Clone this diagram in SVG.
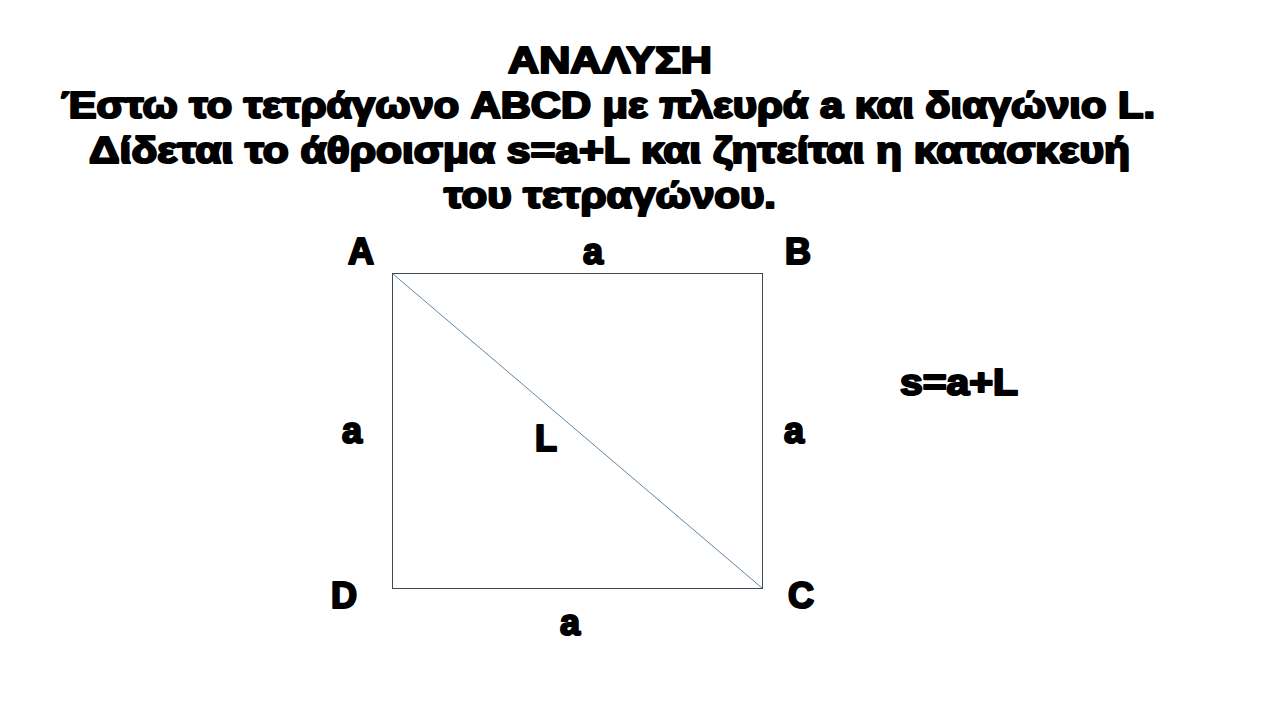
<svg xmlns="http://www.w3.org/2000/svg" width="1280" height="720" viewBox="0 0 1280 720">
<style>
.t{font-family:"Liberation Sans","DejaVu Sans",Arial,sans-serif;font-weight:bold;font-size:36px;fill:#000;stroke:#000;stroke-width:2.2px;stroke-linejoin:round}
.lbl{text-anchor:middle}
</style>
<rect width="1280" height="720" fill="#fff"/>
<g id="title">
<text class="t" x="508" y="73" textLength="204" lengthAdjust="spacingAndGlyphs">ΑΝΑΛΥΣΗ</text>
<text class="t" x="61" y="118" textLength="1094" lengthAdjust="spacingAndGlyphs">Έστω το τετράγωνο ABCD με πλευρά a και διαγώνιο L.</text>
<text class="t" x="89" y="163" textLength="1041" lengthAdjust="spacingAndGlyphs">Δίδεται το άθροισμα s=a+L και ζητείται η κατασκευή</text>
<text class="t" x="444" y="208" textLength="332" lengthAdjust="spacingAndGlyphs">του τετραγώνου.</text>
</g>
<g id="square">
<rect x="392.5" y="273.5" width="370" height="315" fill="none" stroke="#3f4a57" stroke-width="1"/>
</g>
<g id="connectors">
<line id="diagonal" x1="393" y1="274" x2="762" y2="588" stroke="#5f86a8" stroke-width="1"/>
</g>
<g id="labels">
<g id="label-A"><text class="t lbl" x="361" y="264">A</text></g>
<g id="label-B"><text class="t lbl" x="798" y="264">B</text></g>
<g id="label-C"><text class="t lbl" x="801" y="608">C</text></g>
<g id="label-D"><text class="t lbl" x="344" y="608">D</text></g>
<g id="label-a-top"><text class="t lbl" x="593" y="264">a</text></g>
<g id="label-a-left"><text class="t lbl" x="352" y="443">a</text></g>
<g id="label-a-right"><text class="t lbl" x="794" y="443">a</text></g>
<g id="label-a-bottom"><text class="t lbl" x="570" y="635">a</text></g>
<g id="label-L"><text class="t lbl" x="546" y="451">L</text></g>
<g id="label-sum"><text class="t" x="900" y="395" textLength="118" lengthAdjust="spacingAndGlyphs">s=a+L</text></g>
</g>
</svg>
